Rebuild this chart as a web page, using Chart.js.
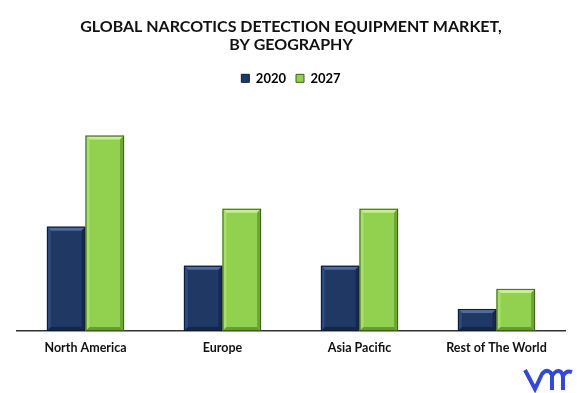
<!DOCTYPE html>
<html>
<head>
<meta charset="utf-8">
<script src="https://cdn.jsdelivr.net/npm/chart.js@4"></script>
<style>
  html, body { margin: 0; padding: 0; background: #fff; }
  #wrap { width: 577px; height: 393px; position: relative; }
</style>
</head>
<body>
<div id="wrap"><canvas id="chart"></canvas></div>
<script>
const regions = ['North America', 'Europe', 'Asia Pacific', 'Rest of The World'];
const values2020 = [5.30, 3.31, 3.31, 1.12];
const values2027 = [9.93, 6.21, 6.21, 2.14];
const yMax = 12;

// bevel colours per series: body, top, left, right, bottom, border
const navy = { body: '#203864', top: '#4f6a9c', left: '#2c4a7e', right: '#162a4e', bottom: '#14264a', border: '#0e1a30' };
const green = { body: '#92d050', top: '#c6ee92', left: '#a8df6c', right: '#6ea636', bottom: '#679d30', border: '#3f601c' };

// draws the beveled look on top of each bar, using the bar elements from the scales
const bevelPlugin = {
    id: 'bevel',
    afterDatasetsDraw(chart) {
        const ctx = chart.ctx;
        chart.data.datasets.forEach((ds, i) => {
            const meta = chart.getDatasetMeta(i);
            const c = ds.bevel;
            meta.data.forEach((bar) => {
                const l = bar.x - bar.width / 2, r = bar.x + bar.width / 2;
                const t = bar.y, b = bar.base;
                const s = Math.min(4, (b - t) / 3);
                ctx.save();
                ctx.fillStyle = c.top;
                ctx.beginPath();
                ctx.moveTo(l, t); ctx.lineTo(r, t); ctx.lineTo(r - s, t + s); ctx.lineTo(l + s, t + s); ctx.closePath();
                ctx.fill();
                ctx.fillStyle = c.left;
                ctx.beginPath();
                ctx.moveTo(l, t); ctx.lineTo(l + s, t + s); ctx.lineTo(l + s, b - s); ctx.lineTo(l, b); ctx.closePath();
                ctx.fill();
                ctx.fillStyle = c.right;
                ctx.beginPath();
                ctx.moveTo(r, t); ctx.lineTo(r - s, t + s); ctx.lineTo(r - s, b - s); ctx.lineTo(r, b); ctx.closePath();
                ctx.fill();
                ctx.fillStyle = c.bottom;
                ctx.beginPath();
                ctx.moveTo(l, b); ctx.lineTo(l + s, b - s); ctx.lineTo(r - s, b - s); ctx.lineTo(r, b); ctx.closePath();
                ctx.fill();
                ctx.strokeStyle = c.border;
                ctx.lineWidth = 1;
                ctx.strokeRect(l + 0.5, t + 0.5, r - l - 1, b - t - 1);
                ctx.restore();
            });
        });
    }
};

// little "vm" logo, bottom right
const logoPlugin = {
    id: 'logo',
    afterDraw(chart) {
        const ctx = chart.ctx;
        ctx.save();
        ctx.strokeStyle = '#3448d4';
        ctx.lineWidth = 4;
        ctx.lineCap = 'butt';
        ctx.lineJoin = 'miter';
        ctx.beginPath();
        ctx.moveTo(525, 370);
        ctx.lineTo(535, 389);
        ctx.lineTo(542, 374);
        ctx.quadraticCurveTo(546, 369, 550, 372);
        ctx.lineTo(552, 375);
        ctx.lineTo(552, 390);
        ctx.moveTo(552, 376);
        ctx.quadraticCurveTo(556, 369, 561, 372);
        ctx.quadraticCurveTo(563, 374, 563, 378);
        ctx.lineTo(563, 390);
        ctx.moveTo(563, 376);
        ctx.quadraticCurveTo(566, 370, 572, 372);
        ctx.stroke();
        ctx.restore();
    }
};

new Chart(document.getElementById('chart'), {
    type: 'bar',
    data: {
        labels: regions,
        datasets: [
            {
                label: '2020',
                data: values2020,
                backgroundColor: navy.body,
                borderWidth: 0,
                bevel: navy
            },
            {
                label: '2027',
                data: values2027,
                backgroundColor: green.body,
                borderWidth: 0,
                bevel: green
            }
        ]
    },
    options: {
        responsive: true,
        maintainAspectRatio: false,
        animation: false,
        devicePixelRatio: 1,
        layout: { padding: { left: 17, right: 12, top: 12, bottom: 29 } },
        datasets: {
            bar: { categoryPercentage: 0.563, barPercentage: 1.0 }
        },
        plugins: {
            title: {
                display: true,
                text: ['GLOBAL NARCOTICS DETECTION EQUIPMENT MARKET,', 'BY GEOGRAPHY'],
                color: '#111',
                font: { family: 'Lato', size: 16, weight: 'bold', lineHeight: 1.12 },
                padding: { top: 6, bottom: 8 }
            },
            legend: {
                display: true,
                labels: {
                    color: '#222',
                    boxWidth: 8,
                    boxHeight: 8,
                    padding: 10,
                    font: { family: 'Lato', size: 13, weight: 'bold' },
                    generateLabels(chart) {
                        return chart.data.datasets.map((ds, i) => ({
                            text: ds.label,
                            fillStyle: ds.bevel.body,
                            strokeStyle: ds.bevel.border,
                            lineWidth: 1,
                            datasetIndex: i
                        }));
                    }
                }
            },
            tooltip: { enabled: false }
        },
        scales: {
            x: {
                grid: { display: false, drawTicks: false },
                border: { display: true, color: '#333', width: 1.5 },
                ticks: {
                    color: '#111',
                    padding: 9,
                    font: { family: 'Lato', size: 12.5, weight: 'bold' }
                }
            },
            y: {
                display: false,
                min: 0,
                max: yMax
            }
        }
    },
    plugins: [bevelPlugin, logoPlugin]
});
</script>
</body>
</html>
